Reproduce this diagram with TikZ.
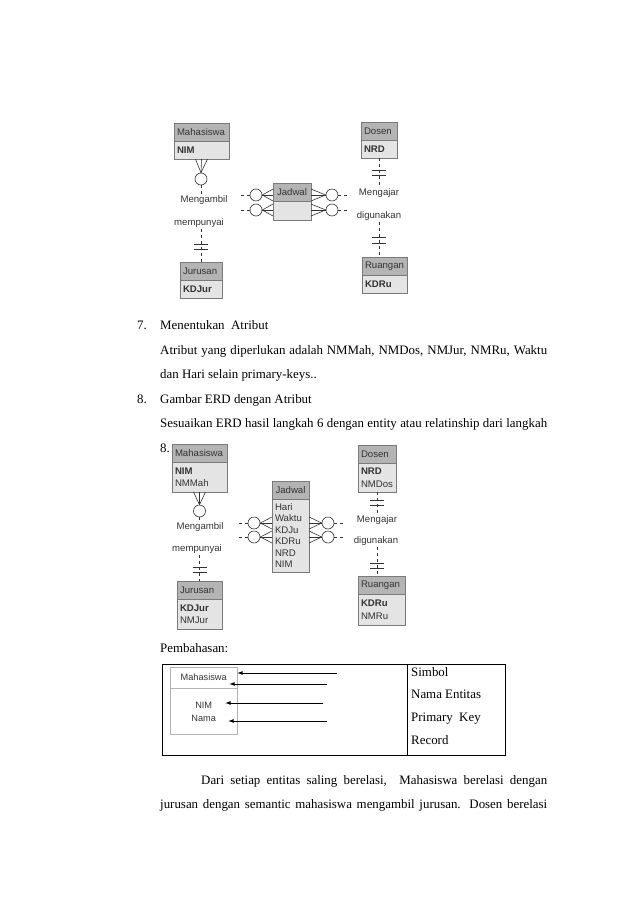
\documentclass[tikz,border=0pt]{standalone}
\usepackage{fontspec}
\setmainfont{Liberation Serif}
\newfontfamily\erdfont{Liberation Sans}
\usetikzlibrary{calc}

\definecolor{hdrgray}{HTML}{B4B4B4}
\definecolor{bodygray}{HTML}{E4E4E4}
\definecolor{edgegray}{HTML}{7A7A7A}
\definecolor{ink}{HTML}{333333}

\tikzset{
	ent/.style={draw=edgegray, line width=0.6pt, anchor=north west, align=left, outer sep=0pt,
		inner xsep=3pt, inner ysep=2pt, text width=#1, text=ink,
		font=\erdfont\fontsize{9.6}{12.5}\selectfont},
	enthead/.style={ent=#1, fill=hdrgray, minimum height=18pt},
	entbody/.style={ent=#1, fill=bodygray},
	opt/.style={circle, draw=ink, line width=0.6pt, fill=white, minimum size=12pt, inner sep=0pt},
	rel/.style={font=\erdfont\fontsize{9.6}{12}\selectfont, text=ink, inner sep=1pt},
	link/.style={ink, line width=0.6pt},
	txt/.style={anchor=base west, inner sep=0pt, font=\fontsize{12.9}{15}\selectfont},
}

\begin{document}
\begin{tikzpicture}[x=1pt, y=-1pt]
	\useasboundingbox (0,0) rectangle (638,902);
	
	%%% Первая диаграмма
	
	% Сущности
	\node[enthead=49pt] (mhs1) at (174,123) {Mahasiswa};
	\node[entbody=49pt, minimum height=18pt] (mhs1b) at (mhs1.south west) {\textbf{NIM}};
	\node[enthead=30pt] (dsn1) at (361,122) {Dosen};
	\node[entbody=30pt, minimum height=18pt] (dsn1b) at (dsn1.south west) {\textbf{NRD}};
	\node[enthead=32pt, align=center] (jdw1) at (273,183) {Jadwal};
	\node[entbody=32pt, minimum height=19pt] (jdw1b) at (jdw1.south west) {};
	\node[enthead=36pt] (jur1) at (180,262) {Jurusan};
	\node[entbody=36pt, minimum height=18pt] (jur1b) at (jur1.south west) {\textbf{KDJur}};
	\node[enthead=39pt] (rng1) at (362,257) {Ruangan};
	\node[entbody=39pt, minimum height=18pt] (rng1b) at (rng1.south west) {\textbf{KDRu}};
	
	% Mahasiswa - Jurusan
	\node[opt] (c1) at (201,179) {};
	\foreach \d in {-6,0,6}
		\draw[link] (c1.north) -- ($(mhs1b.south)+(\d,0)$);
	\node[rel] (r1) at (204,200) {Mengambil};
	\node[rel] (r2) at (199,223) {mempunyai};
	\draw[link, dashed] (c1.south) -- (c1.south |- r1.north);
	\draw[link, dashed] (r2.south -| jur1.north) -- (jur1.north);
	\draw[link] ($(jur1.north)+(-7,-13)$) -- +(14,0);
	\draw[link] ($(jur1.north)+(-7,-18)$) -- +(14,0);
	
	% Dosen - Ruangan
	\node[rel] (r3) at (379,193) {Mengajar};
	\node[rel] (r4) at (379,216) {digunakan};
	\draw[link, dashed] (dsn1b.south) -- (dsn1b.south |- r3.north);
	\draw[link, dashed] (r4.south -| dsn1b.south) -- (dsn1b.south |- rng1.north);
	\draw[link] ($(dsn1b.south)+(-7,12)$) -- +(14,0);
	\draw[link] ($(dsn1b.south)+(-7,17)$) -- +(14,0);
	\draw[link] ($(dsn1b.south |- rng1.north)+(-7,-14)$) -- +(14,0);
	\draw[link] ($(dsn1b.south |- rng1.north)+(-7,-20)$) -- +(14,0);
	
	% Jadwal
	\node[opt] (jl1) at (256,195) {};
	\node[opt] (jl2) at (256,210) {};
	\node[opt] (jr1) at (332,195) {};
	\node[opt] (jr2) at (332,210) {};
	\foreach \c in {jl1,jl2} {
		\foreach \d in {-6,0,6}
			\draw[link] (\c.east) -- ($(jdw1.west |- \c.east)+(0,\d)$);
		\draw[link, dashed] (\c.west) -- +(-10,0);
	}
	\foreach \c in {jr1,jr2} {
		\foreach \d in {-6,0,6}
			\draw[link] (\c.west) -- ($(jdw1.east |- \c.west)+(0,\d)$);
		\draw[link, dashed] (\c.east) -- +(10,0);
	}
	
	%%% Текст
	
	\node[txt] (n7) at (137,329) {7.};
	\node[txt] (h7) at (160,329) {Menentukan\ \ Atribut};
	\node[txt] (p7a) at (160,354) {\makebox[387pt][s]{Atribut yang diperlukan adalah NMMah, NMDos, NMJur, NMRu, Waktu}};
	\node[txt] (p7b) at (160,378) {dan Hari selain primary-keys..};
	\node[txt] (n8) at (137,403) {8.};
	\node[txt] (h8) at (160,403) {Gambar ERD dengan Atribut};
	\node[txt] (p8a) at (160,427) {\makebox[387pt][s]{Sesuaikan ERD hasil langkah 6 dengan entity atau relatinship dari langkah}};
	\node[txt] (p8b) at (160,452) {8.};
	
	%%% Вторая диаграмма
	
	% Сущности
	\node[enthead=49pt] (mhs2) at (172,444) {Mahasiswa};
	\node[entbody=49pt, minimum height=30pt] (mhs2b) at (mhs2.south west) {\textbf{NIM}\\NMMah};
	\node[enthead=32pt] (dsn2) at (358,445) {Dosen};
	\node[entbody=32pt, minimum height=29pt] (dsn2b) at (dsn2.south west) {\textbf{NRD}\\NMDos};
	\node[enthead=31pt, align=center] (jdw2) at (272,481) {Jadwal};
	\node[entbody=31pt, minimum height=73pt, font=\erdfont\fontsize{9.6}{11.4}\selectfont] (jdw2b) at (jdw2.south west)
		{Hari\\Waktu\\KDJu\\KDRu\\NRD\\NIM};
	\node[enthead=39pt] (jur2) at (177,581) {Jurusan};
	\node[entbody=39pt, minimum height=30pt] (jur2b) at (jur2.south west) {\textbf{KDJur}\\NMJur};
	\node[enthead=41pt] (rng2) at (358,576) {Ruangan};
	\node[entbody=41pt, minimum height=31pt] (rng2b) at (rng2.south west) {\textbf{KDRu}\\NMRu};
	
	% Mahasiswa - Jurusan
	\node[opt] (c2) at (199.5,511) {};
	\foreach \d in {-6,0,6}
		\draw[link] (c2.north) -- ($(mhs2b.south)+(\d,0)$);
	\node[rel] (r5) at (200,527) {Mengambil};
	\node[rel] (r6) at (197,549) {mempunyai};
	\draw[link, dashed] (c2.south) -- (c2.south |- r5.north);
	\draw[link, dashed] (r6.south -| jur2.north) -- (jur2.north);
	\draw[link] ($(jur2.north)+(-7,-9)$) -- +(14,0);
	\draw[link] ($(jur2.north)+(-7,-14)$) -- +(14,0);
	
	% Dosen - Ruangan
	\node[rel] (r7) at (377,520) {Mengajar};
	\node[rel] (r8) at (376,541) {digunakan};
	\draw[link, dashed] (dsn2b.south) -- (dsn2b.south |- r7.north);
	\draw[link, dashed] (r8.south -| dsn2b.south) -- (dsn2b.south |- rng2.north);
	\draw[link] ($(dsn2b.south)+(-7,8)$) -- +(14,0);
	\draw[link] ($(dsn2b.south)+(-7,13)$) -- +(14,0);
	\draw[link] ($(dsn2b.south |- rng2.north)+(-7,-8)$) -- +(14,0);
	\draw[link] ($(dsn2b.south |- rng2.north)+(-7,-13)$) -- +(14,0);
	
	% Jadwal
	\node[opt] (jl3) at (254,523) {};
	\node[opt] (jl4) at (254,537) {};
	\node[opt] (jr3) at (328,523) {};
	\node[opt] (jr4) at (328,537) {};
	\foreach \c in {jl3,jl4} {
		\foreach \d in {-6,0,6}
			\draw[link] (\c.east) -- ($(jdw2.west |- \c.east)+(0,\d)$);
		\draw[link, dashed] (\c.west) -- +(-10,0);
	}
	\foreach \c in {jr3,jr4} {
		\foreach \d in {-6,0,6}
			\draw[link] (\c.west) -- ($(jdw2.east |- \c.west)+(0,\d)$);
		\draw[link, dashed] (\c.east) -- +(10,0);
	}
	
	%%% Пембахасан
	
	\node[txt] (pb) at (160,652) {Pembahasan:};
	\draw[line width=1pt] (162,664) rectangle (505,755);
	\draw[line width=1pt] (407,664) -- (407,755);
	
	\node[draw=gray!60, anchor=north west, minimum width=67pt, minimum height=21pt, inner sep=0pt,
		font=\erdfont\fontsize{9.2}{11}\selectfont, text=ink] (sym) at (170,667) {Mahasiswa};
	\node[draw=gray!60, anchor=north west, minimum width=67pt, minimum height=46pt, inner sep=0pt, align=center,
		font=\erdfont\fontsize{9.2}{13}\selectfont, text=ink] (symb) at (sym.south west) {NIM\\Nama};
	
	\node[txt] (k1) at (411,676) {Simbol};
	\node[txt] (k2) at (411,698) {Nama Entitas};
	\node[txt] (k3) at (411,721) {Primary\ \ Key};
	\node[txt] (k4) at (411,744) {Record};
	
	\coordinate (a1) at (337,673);
	\coordinate (a2) at (327,684);
	\coordinate (a3) at (323,703);
	\coordinate (a4) at (327,721);
	\draw[-latex, line width=0.8pt] (a1) -- (a1 -| sym.east);
	\draw[-latex, line width=0.8pt] (a2) -- ($(a2 -| sym.east)+(-8,0)$);
	\draw[-latex, line width=0.8pt] (a3) -- ($(a3 -| symb.east)+(-12,0)$);
	\draw[-latex, line width=0.8pt] (a4) -- ($(a4 -| symb.east)+(-9,0)$);
	
	%%% Последний абзац
	
	\node[txt] (d1) at (201,784) {\makebox[346pt][s]{Dari setiap entitas saling berelasi,\ \ Mahasiswa berelasi dengan}};
	\node[txt] (d2) at (160,808) {\makebox[387pt][s]{jurusan dengan semantic mahasiswa mengambil jurusan. Dosen berelasi}};
\end{tikzpicture}
\end{document}
